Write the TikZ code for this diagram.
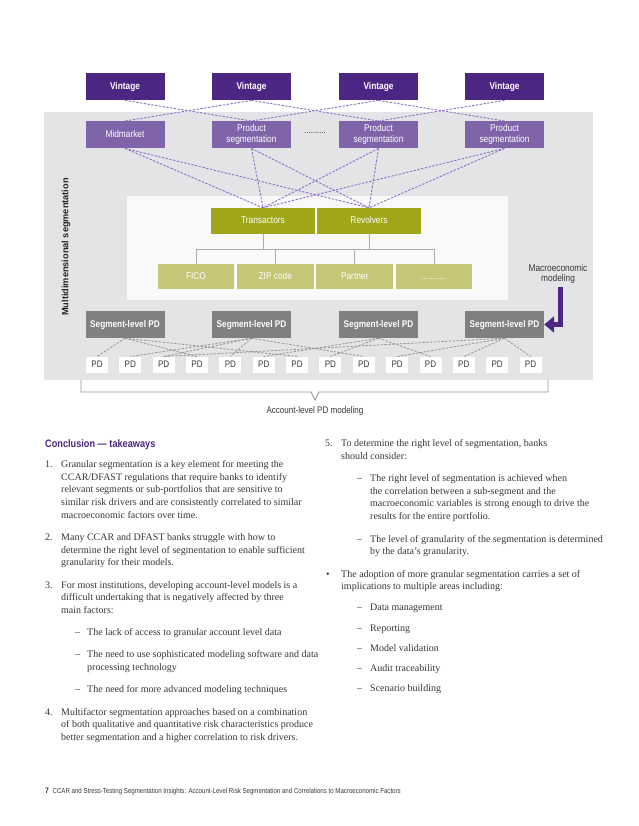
\documentclass[tikz,border=0pt]{standalone}
\usepackage{fontspec}
\setmainfont{Liberation Serif}
\newfontfamily\cond[FakeStretch=0.85]{Liberation Sans}
\newfontfamily\plainsans{Liberation Sans}
\usetikzlibrary{arrows.meta}
\definecolor{vpurple}{RGB}{75,38,131}
\definecolor{mpurple}{RGB}{128,100,170}
\definecolor{lpurple}{RGB}{140,112,200}
\definecolor{olive}{RGB}{160,166,24}
\definecolor{lolive}{RGB}{197,199,118}
\definecolor{segray}{RGB}{128,128,128}
\definecolor{bggray}{RGB}{228,228,230}
\definecolor{inwhite}{RGB}{249,249,249}
\definecolor{bodytext}{RGB}{55,55,55}
\definecolor{linegray}{RGB}{150,150,150}
\tikzset{
  box/.style={rectangle, inner sep=0pt, minimum width=79pt, minimum height=27pt, align=center, text=white, font=\cond\fontsize{9.8}{11}\selectfont},
  oneline/.style={text height=7pt, text depth=2pt},
  vint/.style={box, oneline, fill=vpurple, font=\cond\bfseries\fontsize{9.8}{11}\selectfont},
  rowtwo/.style={box, fill=mpurple},
  segbox/.style={box, oneline, fill=segray, font=\cond\bfseries\fontsize{9.7}{11}\selectfont},
  trbox/.style={box, oneline, fill=olive, minimum width=104pt, minimum height=26pt},
  fbox/.style={box, oneline, fill=lolive, minimum width=76.5pt, minimum height=25pt},
  pdbox/.style={rectangle, oneline, inner sep=0pt, fill=white, minimum width=22pt, minimum height=16.6pt, text=bodytext, font=\cond\fontsize{9.5}{10}\selectfont},
  pdash/.style={draw=lpurple, dash pattern=on 2.4pt off 1.4pt, line width=0.9pt},
  gdash/.style={draw=linegray, dash pattern=on 2.4pt off 1.4pt, line width=0.8pt},
  tree/.style={draw=linegray!80, line width=0.8pt},
  body/.style={anchor=base west, inner sep=0pt, text=bodytext, font=\fontsize{10}{12.7}\selectfont},
}
\begin{document}
\begin{tikzpicture}[x=1pt,y=-1pt]
\useasboundingbox[fill=white] (0,0) rectangle (638,826);
% background panels
\fill[bggray] (44,112) rectangle (593,380);
\fill[inwhite] (127,196) rectangle (508,300);
% rotated label
\node[rotate=90, inner sep=0pt, text=black!85, font=\plainsans\bfseries\fontsize{9.2}{10}\selectfont] (multi) at (66,247) {Multidimensional segmentation};
% vintage row
\foreach \i/\x in {1/125,2/251.5,3/378.5,4/504.5}{
  \node[vint] (v\i) at (\x,86.7) {Vintage};
  \node[segbox] (s\i) at (\x,324.5) {Segment-level PD};
}
\node[rowtwo, oneline] (r1) at (125,134.7) {Midmarket};
\node[rowtwo] (r2) at (251.5,134.7) {Product\\segmentation};
\node[rowtwo] (r3) at (378.5,134.7) {Product\\segmentation};
\node[rowtwo] (r4) at (504.5,134.7) {Product\\segmentation};
\node[inner sep=0pt, text=bodytext, font=\cond\fontsize{9}{10}\selectfont] (rdots) at (315,133) {..........};
% transactors / revolvers
\node[trbox] (tr) at (263,221) {Transactors};
\node[trbox] (rv) at (369,221) {Revolvers};
% FICO row
\node[fbox] (fico) at (196,276.5) {FICO};
\node[fbox] (zip) at (275.3,276.5) {ZIP code};
\node[fbox] (partner) at (354.7,276.5) {Partner};
\node[fbox] (fdots) at (434,276.5) {...........};
% PD boxes
\foreach \i in {1,...,14}{
  \node[pdbox] (pd\i) at ({97+33.35*(\i-1)},365) {PD};
}
% purple dashed links
\foreach \a/\b in {1/2,2/1,2/3,3/2,3/4,4/3}{
  \draw[pdash] (v\a.south) -- (r\b.north);
}
\foreach \a in {1,...,4}{
  \draw[pdash] (r\a.south) -- (tr.north);
  \draw[pdash] (r\a.south) -- (rv.north);
}
% tree
\coordinate (bar) at (0,249);
\draw[tree] (fico.north) -- (fico.north |- bar) -- (fdots.north |- bar) -- (fdots.north);
\draw[tree] (zip.north) -- (zip.north |- bar);
\draw[tree] (partner.north) -- (partner.north |- bar);
\draw[tree] (tr.south) -- (tr.south |- bar);
\draw[tree] (rv.south) -- (rv.south |- bar);
% segment to PD links
\foreach \s/\p in {1/1,1/4,1/7,2/2,2/3,2/5,2/9,3/6,3/8,3/11,4/3,4/10,4/12,4/14}{
  \draw[gdash] (s\s.south) -- (pd\p.north);
}
% macroeconomic modeling
\node[inner sep=0pt, align=center, text=bodytext, font=\cond\fontsize{9.8}{10}\selectfont] (macro) at (558,274) {Macroeconomic\\modeling};
\coordinate (mtop) at (560,287);
\draw[vpurple, line width=5pt, -{Triangle[length=10pt,width=16pt]}] (mtop) |- (s4.east);
% brace
\draw[linegray, line width=0.8pt] (81,380) -- (81,392) -- (311,392) -- (315,400) -- (319,392) -- (548,392) -- (548,380);
\node[inner sep=0pt, text=bodytext, font=\cond\fontsize{9.5}{10}\selectfont] (acc) at (315,411) {Account-level PD modeling};
% left column
\node[anchor=base west, inner sep=0pt, text=vpurple, font=\cond\bfseries\fontsize{10.8}{12}\selectfont] (head) at (45,447) {Conclusion — takeaways};
\node[body] (n1) at (45,467.5) {1.};
\node[body] (a1) at (61,467.5) {Granular segmentation is a key element for meeting the};
\node[body] (a2) at (61,480.2) {CCAR/DFAST regulations that require banks to identify};
\node[body] (a3) at (61,492.9) {relevant segments or sub-portfolios that are sensitive to};
\node[body] (a4) at (61,505.6) {similar risk drivers and are consistently correlated to similar};
\node[body] (a5) at (61,518.3) {macroeconomic factors over time.};
\node[body] (n2) at (45,540.5) {2.};
\node[body] (b1) at (61,540.5) {Many CCAR and DFAST banks struggle with how to};
\node[body] (b2) at (61,553.2) {determine the right level of segmentation to enable sufficient};
\node[body] (b3) at (61,565.9) {granularity for their models.};
\node[body] (n3) at (45,588.1) {3.};
\node[body] (c1) at (61,588.1) {For most institutions, developing account-level models is a};
\node[body] (c2) at (61,600.8) {difficult undertaking that is negatively affected by three};
\node[body] (c3) at (61,613.5) {main factors:};
\node[body] (d1) at (75,635.7) {–};
\node[body] (d1t) at (87,635.7) {The lack of access to granular account level data};
\node[body] (d2) at (75,657.9) {–};
\node[body] (d2t) at (87,657.9) {The need to use sophisticated modeling software and data};
\node[body] (d2u) at (87,670.6) {processing technology};
\node[body] (d3) at (75,692.8) {–};
\node[body] (d3t) at (87,692.8) {The need for more advanced modeling techniques};
\node[body] (n4) at (45,715) {4.};
\node[body] (e1) at (61,715) {Multifactor segmentation approaches based on a combination};
\node[body] (e2) at (61,727.7) {of both qualitative and quantitative risk characteristics produce};
\node[body] (e3) at (61,740.4) {better segmentation and a higher correlation to risk drivers.};
% right column
\node[body] (n5) at (325,446.5) {5.};
\node[body] (f1) at (341,446.5) {To determine the right level of segmentation, banks};
\node[body] (f2) at (341,459.2) {should consider:};
\node[body] (g0) at (357,481.5) {–};
\node[body] (g1) at (370,481.5) {The right level of segmentation is achieved when};
\node[body] (g2) at (370,494.2) {the correlation between a sub-segment and the};
\node[body] (g3) at (370,506.9) {macroeconomic variables is strong enough to drive the};
\node[body] (g4) at (370,519.6) {results for the entire portfolio.};
\node[body] (h0) at (357,542) {–};
\node[body] (h1) at (370,542) {The level of granularity of the segmentation is determined};
\node[body] (h2) at (370,554.7) {by the data’s granularity.};
\node[body] (i0) at (326,577) {•};
\node[body] (i1) at (341,577) {The adoption of more granular segmentation carries a set of};
\node[body] (i2) at (341,589.7) {implications to multiple areas including:};
\foreach \k/\y/\t in {1/610.5/{Data management},2/631/{Reporting},3/651.5/{Model validation},4/671.5/{Audit traceability},5/691.5/{Scenario building}}{
  \node[body] (j\k) at (357,\y) {–};
  \node[body] (jt\k) at (370,\y) {\t};
}
% footer
\node[anchor=base west, inner sep=0pt, text=bodytext, font=\cond\fontsize{7.2}{8}\selectfont] (foot) at (45,793) {\textbf{\fontsize{8}{8}\selectfont 7}\enspace CCAR and Stress-Testing Segmentation Insights: Account-Level Risk Segmentation and Correlations to Macroeconomic Factors};
\end{tikzpicture}
\end{document}
